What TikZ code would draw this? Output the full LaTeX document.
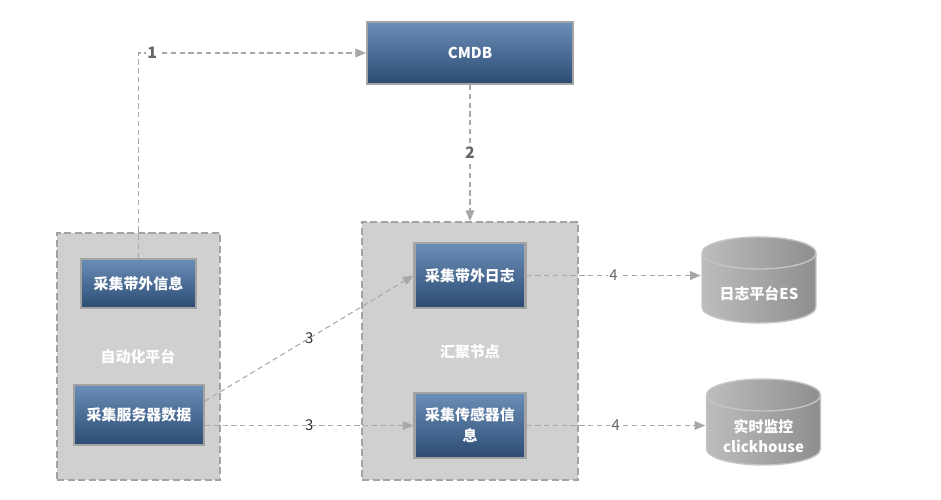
\documentclass[tikz,border=0pt]{standalone}
\usepackage{fontspec}
\setmainfont{Noto Sans CJK SC}
\usetikzlibrary{arrows.meta}

\definecolor{boxtop}{HTML}{6B8EB8}
\definecolor{boxbot}{HTML}{2B4B72}
\definecolor{rim}{HTML}{A3A3A3}
\definecolor{grpfill}{HTML}{D0D0D0}
\definecolor{flow}{HTML}{A8A8A8}
\definecolor{numtext}{HTML}{666666}
\definecolor{cylleft}{HTML}{BDBDBD}
\definecolor{cylright}{HTML}{8E8E8E}
\definecolor{cylrim}{HTML}{C4C4C4}

\begin{document}
\begin{tikzpicture}[x=0.02cm, y=-0.02cm,
    bluebox/.style={draw=rim, line width=1.2pt, top color=boxtop, bottom color=boxbot,
        text=white, font=\bfseries\fontsize{8.5}{12}\selectfont, align=center, inner sep=1pt},
    grpbox/.style={draw=rim, fill=grpfill, line width=1.2pt, dash pattern=on 4pt off 2pt},
    grplabel/.style={text=white, font=\bfseries\fontsize{8.5}{11}\selectfont},
    dbcyl/.style={minimum width=2.32cm, minimum height=2.32cm, text=white,
        font=\bfseries\fontsize{8.5}{11}\selectfont, align=center, inner sep=1pt,
        path picture={
            \path[draw=cylrim, line width=0.8pt, left color=cylleft, right color=cylright]
                ([xshift=0.02cm, yshift=-0.34cm]path picture bounding box.north west)
                -- ([xshift=0.02cm, yshift=-1.42cm]path picture bounding box.north west)
                arc[start angle=180, end angle=360, x radius=1.14cm, y radius=0.32cm]
                -- ([xshift=-0.02cm, yshift=-0.34cm]path picture bounding box.north east)
                arc[start angle=0, end angle=180, x radius=1.14cm, y radius=0.32cm] -- cycle;
            \draw[cylrim, line width=0.8pt]
                ([xshift=0.02cm, yshift=-0.34cm]path picture bounding box.north west)
                arc[start angle=180, end angle=360, x radius=1.14cm, y radius=0.32cm];
        }},
    flowline/.style={draw=flow, line width=0.6pt, dash pattern=on 3pt off 2pt,
        -{Triangle[length=6pt,width=5pt]}},
    stepnum/.style={text=numtext, font=\bfseries\fontsize{9}{10}\selectfont, fill=white, inner sep=1pt},
    hopnum/.style={text=numtext, font=\fontsize{8.5}{10}\selectfont, inner sep=1pt}
]

    \useasboundingbox (0,0) rectangle (941,500);

    % groups
    \node[grpbox, minimum width=3.26cm, minimum height=4.94cm] (auto) at (138.5,356.5) {};
    \node[grpbox, minimum width=4.32cm, minimum height=5.16cm] (hub) at (470,351) {};
    \node[grplabel] (autolbl) at (138,357) {自动化平台};
    \node[grplabel] (hublbl) at (470,352) {汇聚节点};

    % boxes
    \node[bluebox, minimum width=4.12cm, minimum height=1.24cm] (cmdb) at (470,53) {CMDB};
    \node[bluebox, minimum width=2.3cm, minimum height=0.98cm] (info) at (138.5,283.5) {采集带外信息};
    \node[bluebox, minimum width=2.6cm, minimum height=1.2cm] (srv) at (139,415) {采集服务器数据};
    \node[bluebox, minimum width=2.22cm, minimum height=1.3cm] (log) at (470,275.5) {采集带外日志};
    \node[bluebox, minimum width=2.22cm, minimum height=1.3cm] (sens) at (470,425.5) {采集传感器信\\息};

    % stores (text sits in the body, below the lid)
    \node[dbcyl] (es) at (759,294) {日志平台ES};
    \node[dbcyl] (ck) at (763.5,436) {实时监控\\clickhouse};

    % flows
    \draw[flowline] (info.north) |- node[stepnum, pos=0.53] {1} (cmdb.west);
    \draw[flowline] (cmdb.south) -- node[stepnum] {2} (hub.north);
    \draw[flowline] (srv.12) -- node[hopnum, text=black!80] {3} (log.west);
    \draw[flowline] (srv.east |- sens.west) -- node[hopnum, text=black!80] {3} (sens.west);
    \draw[flowline] (log.east) -- node[hopnum, fill=white] {4} (log.east -| es.west);
    \draw[flowline] (sens.east) -- node[hopnum, fill=white] {4} (sens.east -| ck.west);

\end{tikzpicture}
\end{document}
